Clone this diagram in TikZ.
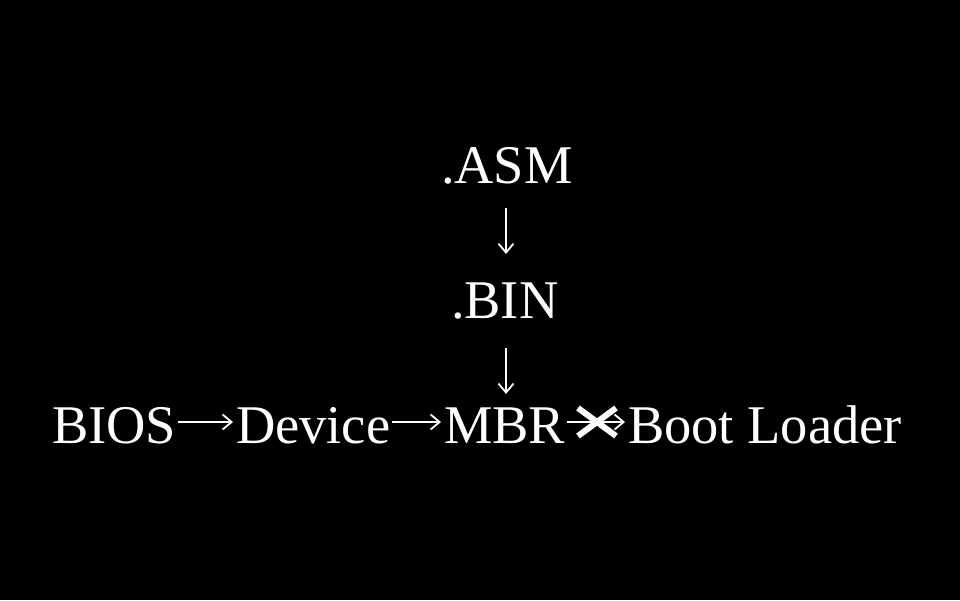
\documentclass[tikz,border=0pt]{standalone}
\usepackage{fontspec}
\setmainfont{Liberation Serif}
\usetikzlibrary{arrows.meta}
\begin{document}
\begin{tikzpicture}[x=1pt,y=-1pt,
  lbl/.style={text=white,inner sep=0pt,outer sep=0pt,anchor=base west,font=\fontsize{54.5}{60}\selectfont},
  arr/.style={draw=white,line width=1.8pt,-{Straight Barb[length=9pt,width=15pt,line width=1.8pt]}},
  crossmark/.style={draw=white,line width=6pt}]
\useasboundingbox (0,0) rectangle (960,600);
\fill[black] (0,0) rectangle (960,600);
\node[lbl] (asm) at (441,183) {.ASM};
\node[lbl] (bin) at (451,318) {.BIN};
\node[lbl] (bios) at (52,443) {BIOS};
\node[lbl] (device) at (236,443) {Device};
\node[lbl] (mbr) at (444,443) {MBR};
\node[lbl] (boot) at (628,443) {Boot Loader};
\coordinate (a1s) at (506,208);
\coordinate (a1e) at (506,254);
\coordinate (a2s) at (506,348);
\coordinate (a2e) at (506,394);
\draw[arr] (a1s) -- (a1e);
\draw[arr] (a2s) -- (a2e);
\draw[arr] ([xshift=2pt,yshift=21pt]bios.base east) -- ([xshift=-3pt,yshift=21pt]device.base west);
\draw[arr] ([xshift=2pt,yshift=21pt]device.base east) -- ([xshift=-3pt,yshift=21pt]mbr.base west);
\draw[arr] ([xshift=2pt,yshift=21pt]mbr.base east) -- ([xshift=-3pt,yshift=21pt]boot.base west);
\coordinate (xc) at (597,422);
\draw[crossmark] ([shift={(-19,-14)}]xc) -- ([shift={(19,14)}]xc);
\draw[crossmark] ([shift={(-19,14)}]xc) -- ([shift={(19,-14)}]xc);
\end{tikzpicture}
\end{document}
